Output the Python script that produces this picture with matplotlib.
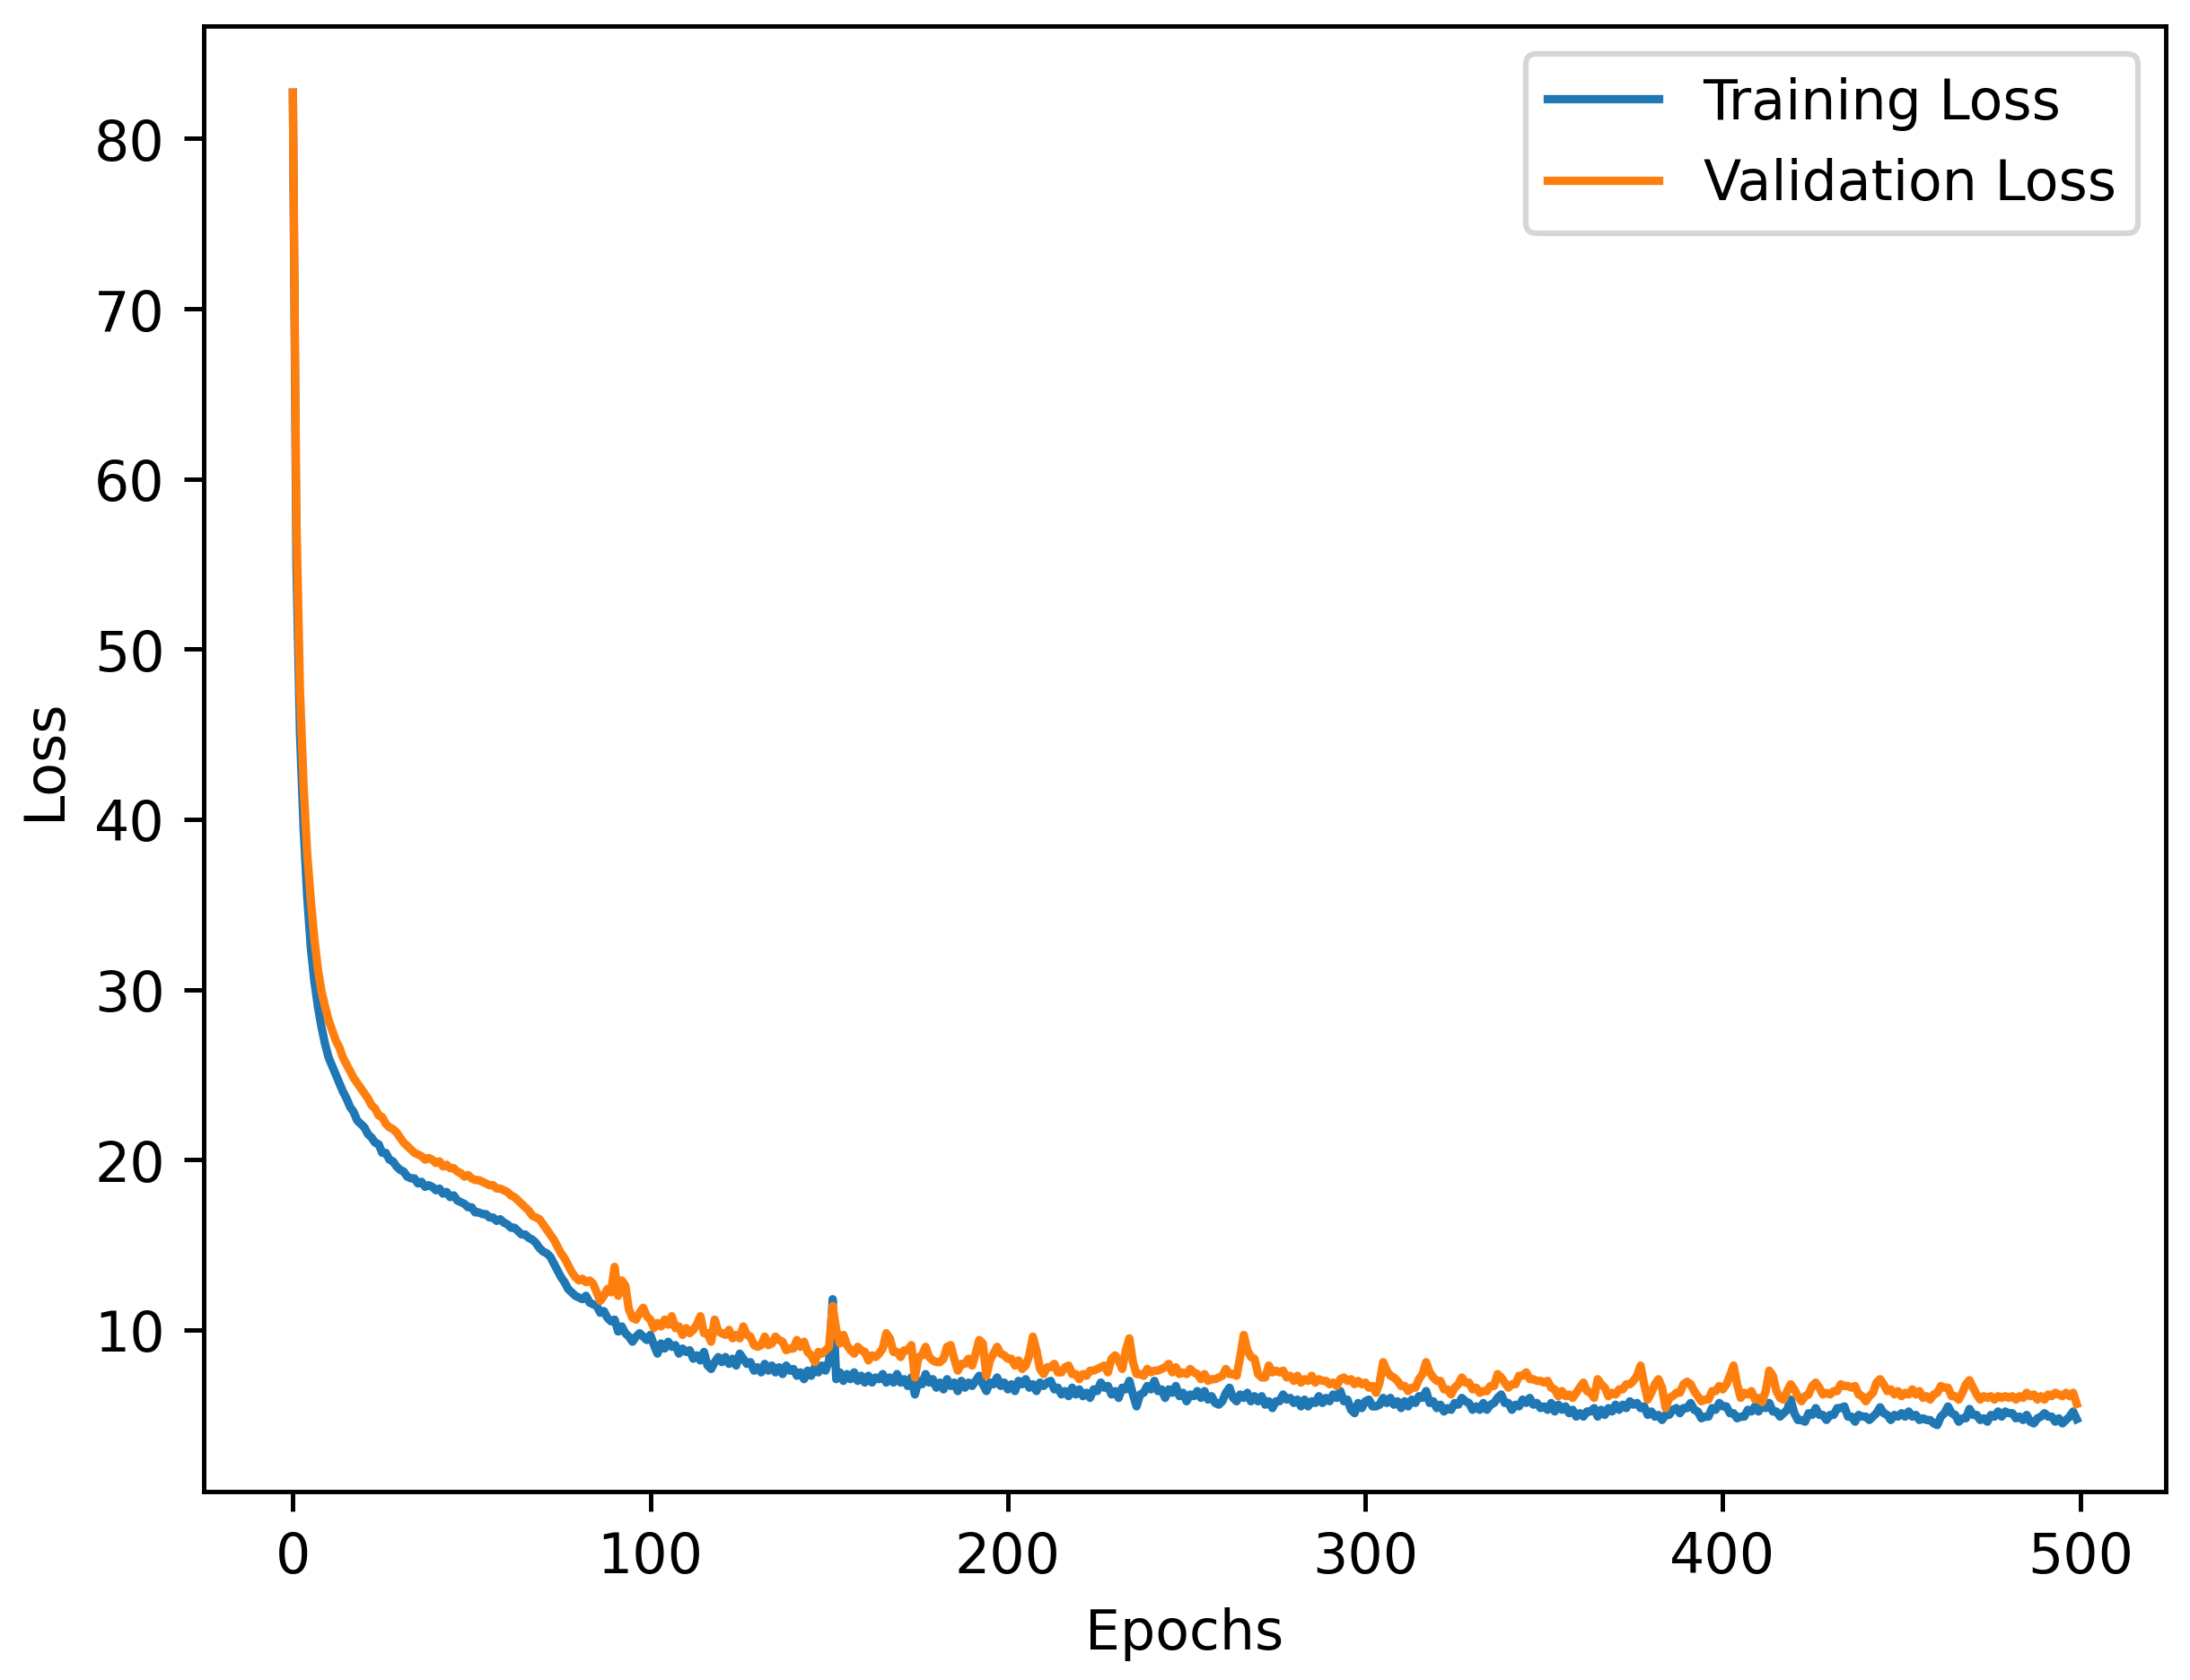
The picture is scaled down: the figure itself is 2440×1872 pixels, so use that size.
import numpy as np
import matplotlib.pyplot as plt


# loss values per epoch
train_loss = [
    82.7, 55.0, 45.0, 39.5, 35.5, 32.5, 30.5, 29.0, 27.8, 26.8,
    26.0, 25.5, 25.0, 24.5, 24.0, 23.6, 23.1, 22.8, 22.3, 22.1,
    21.9, 21.5, 21.3, 21.0, 20.9, 20.4, 20.4, 20.0, 19.9, 19.6,
    19.4, 19.3, 19.0, 18.9, 18.9, 18.6, 18.7, 18.4, 18.5, 18.4,
    18.2, 18.3, 18.0, 18.1, 17.8, 17.9, 17.6, 17.5, 17.4, 17.2,
    17.2, 16.9, 16.9, 16.8, 16.8, 16.6, 16.6, 16.4, 16.5, 16.3,
    16.2, 16.0, 16.0, 15.8, 15.6, 15.6, 15.4, 15.3, 15.1, 14.8,
    14.6, 14.5, 14.3, 13.9, 13.5, 13.1, 12.8, 12.4, 12.2, 12.0,
    11.9, 11.8, 12.0, 11.6, 11.5, 11.4, 11.0, 11.1, 10.7, 10.5,
    10.6, 9.9, 10.2, 9.8, 9.6, 9.3, 9.6, 9.8, 9.6, 9.4,
    9.7, 9.1, 8.6, 9.2, 8.9, 9.3, 9.0, 9.1, 8.6, 8.9,
    8.7, 8.8, 8.3, 8.5, 8.2, 8.7, 7.9, 7.7, 8.1, 8.4,
    8.1, 8.4, 8.0, 8.3, 7.9, 8.6, 8.3, 8.0, 8.1, 7.6,
    7.8, 7.5, 8.0, 7.6, 7.9, 7.5, 7.8, 7.4, 7.9, 7.6,
    7.7, 7.3, 7.5, 7.1, 7.6, 7.3, 7.8, 7.5, 7.9, 7.6,
    8.2, 11.8, 7.1, 7.5, 7.0, 7.4, 7.1, 7.5, 7.0, 7.3,
    6.9, 7.3, 6.9, 7.2, 7.1, 7.4, 6.9, 7.2, 6.9, 7.4,
    6.9, 7.1, 6.7, 7.2, 6.2, 7.0, 6.8, 7.4, 6.9, 7.1,
    6.6, 6.9, 6.5, 7.1, 6.7, 6.9, 6.4, 7.0, 6.6, 6.9,
    6.7, 7.0, 7.3, 6.8, 6.4, 6.9, 6.8, 7.2, 6.7, 6.9,
    6.5, 6.8, 6.4, 7.0, 6.8, 7.1, 6.6, 6.8, 6.4, 6.9,
    6.7, 6.9, 7.0, 6.5, 6.6, 6.2, 6.4, 6.1, 6.6, 6.2,
    6.5, 6.1, 6.3, 6.0, 6.5, 6.4, 6.9, 6.6, 6.7, 6.2,
    6.4, 6.0, 6.6, 6.5, 7.0, 6.2, 5.5, 6.2, 6.3, 6.7,
    6.5, 7.0, 6.4, 6.5, 6.0, 6.5, 6.3, 6.7, 6.1, 6.3,
    5.8, 6.2, 6.1, 6.4, 6.0, 6.4, 5.9, 6.1, 5.7, 5.6,
    5.8, 6.3, 6.6, 6.0, 5.8, 6.2, 6.0, 6.3, 5.8, 6.1,
    5.8, 6.1, 5.6, 5.8, 5.4, 5.8, 5.8, 6.2, 5.9, 6.0,
    5.7, 5.9, 5.5, 5.9, 5.5, 5.8, 5.7, 6.1, 5.7, 6.0,
    5.8, 6.2, 6.0, 6.4, 5.8, 5.9, 5.3, 5.1, 5.7, 5.4,
    5.8, 5.9, 5.5, 5.5, 5.6, 6.0, 5.7, 6.0, 5.6, 5.8,
    5.4, 5.8, 5.5, 5.9, 5.7, 6.1, 6.0, 6.4, 5.7, 5.8,
    5.4, 5.6, 5.2, 5.4, 5.3, 5.7, 5.6, 6.0, 5.8, 5.7,
    5.3, 5.5, 5.3, 5.7, 5.3, 5.6, 5.7, 6.0, 6.2, 5.7,
    5.7, 5.3, 5.6, 5.5, 5.9, 5.7, 6.0, 5.6, 5.7, 5.4,
    5.5, 5.3, 5.7, 5.2, 5.6, 5.3, 5.5, 5.1, 5.3, 4.9,
    5.1, 4.9, 5.2, 5.2, 5.4, 4.9, 5.3, 5.0, 5.4, 5.2,
    5.6, 5.3, 5.6, 5.4, 5.8, 5.6, 5.7, 5.4, 5.5, 5.0,
    5.2, 4.9, 5.0, 4.7, 5.0, 5.0, 5.3, 5.4, 5.1, 5.4,
    5.4, 5.7, 5.3, 5.2, 4.8, 4.9, 4.9, 5.4, 5.3, 5.7,
    5.5, 5.5, 5.1, 5.1, 4.8, 4.9, 4.9, 5.3, 5.2, 5.5,
    5.2, 5.6, 5.4, 5.7, 5.2, 5.2, 4.9, 5.1, 5.3, 5.9,
    5.1, 4.7, 4.7, 4.6, 5.1, 5.0, 5.4, 5.0, 5.0, 4.7,
    5.0, 5.0, 5.4, 5.4, 5.5, 4.9, 4.9, 4.6, 5.0, 4.9,
    4.9, 4.7, 4.9, 5.1, 5.45, 5.1, 5.0, 4.7, 5.0, 4.9,
    5.1, 4.9, 5.2, 4.9, 5.0, 4.7, 4.8, 4.7, 4.7, 4.5,
    4.4, 4.9, 5.1, 5.5, 5.1, 5.0, 4.6, 4.8, 4.8, 5.35,
    5.0, 5.0, 4.7, 4.8, 4.6, 5.0, 4.9, 5.2, 4.9, 5.2,
    5.1, 5.1, 4.8, 4.9, 4.7, 5.0, 4.6, 4.5, 4.8, 4.9,
    5.1, 4.9, 4.9, 4.6, 4.8, 4.5, 4.7, 4.9, 5.2, 4.75,
]

val_loss = [
    82.7, 57.5, 47.5, 42.0, 38.0, 35.3, 33.0, 31.2, 29.9, 29.0,
    28.2, 27.6, 27.0, 26.6, 26.0, 25.6, 25.2, 24.8, 24.5, 24.2,
    23.9, 23.6, 23.2, 23.0, 22.6, 22.5, 22.1, 21.9, 21.8, 21.6,
    21.3, 21.0, 20.8, 20.6, 20.4, 20.3, 20.2, 20.0, 20.1, 20.0,
    19.8, 19.9, 19.6, 19.7, 19.5, 19.5, 19.3, 19.2, 19.0, 19.1,
    18.9, 18.8, 18.8, 18.7, 18.6, 18.5, 18.5, 18.3, 18.3, 18.2,
    18.1, 17.9, 17.8, 17.6, 17.4, 17.2, 17.0, 16.7, 16.6, 16.5,
    16.2, 15.9, 15.6, 15.3, 14.9, 14.5, 14.2, 13.8, 13.4, 13.1,
    12.9, 13.0, 12.8, 12.9, 12.7, 12.2, 11.7, 12.0, 12.4, 12.2,
    13.7, 12.0, 12.9, 12.6, 11.2, 10.7, 10.6, 11.0, 11.3, 10.8,
    10.6, 10.1, 10.4, 10.2, 10.6, 10.3, 10.8, 10.1, 10.2, 9.7,
    10.1, 9.8, 10.0, 10.3, 10.8, 9.8, 9.8, 9.3, 10.6, 9.9,
    9.8, 9.7, 10.0, 9.5, 9.7, 9.5, 10.2, 9.7, 9.6, 9.1,
    9.0, 9.1, 9.6, 9.1, 9.2, 9.6, 9.4, 9.3, 8.8, 8.9,
    8.9, 9.4, 9.0, 9.3, 8.7, 8.5, 8.1, 8.7, 8.6, 8.8,
    9.0, 11.4, 10.0, 9.2, 9.7, 9.1, 8.8, 8.6, 9.0, 8.8,
    8.7, 8.2, 8.5, 8.4, 8.6, 8.9, 9.8, 9.5, 8.7, 8.7,
    8.4, 8.8, 8.8, 9.1, 7.2, 8.4, 8.5, 9.0, 8.4, 8.2,
    8.1, 8.1, 8.3, 9.0, 9.1, 8.3, 7.6, 8.0, 8.0, 8.3,
    7.9, 8.6, 9.4, 9.2, 7.3, 8.2, 8.6, 9.0, 8.6, 8.5,
    8.3, 8.3, 7.9, 8.2, 7.7, 7.9, 8.5, 9.6, 8.8, 7.7,
    7.4, 7.8, 7.8, 8.0, 7.5, 7.5, 7.8, 7.9, 7.4, 7.4,
    7.1, 7.4, 7.3, 7.6, 7.6, 7.7, 7.8, 7.9, 7.5, 8.3,
    8.5, 8.2, 7.7, 8.8, 9.5, 8.1, 7.4, 7.4, 7.3, 7.7,
    7.5, 7.6, 7.6, 7.7, 7.8, 8.0, 7.5, 7.8, 7.4, 7.5,
    7.4, 7.7, 7.5, 7.4, 7.1, 7.4, 7.0, 7.1, 7.1, 7.2,
    7.3, 7.7, 7.4, 7.4, 7.3, 8.4, 9.7, 8.8, 8.4, 8.3,
    7.4, 7.2, 7.2, 7.9, 7.5, 7.6, 7.5, 7.6, 7.2, 7.3,
    7.0, 7.3, 6.9, 7.1, 7.0, 7.3, 6.9, 7.1, 7.0, 7.0,
    6.8, 6.9, 6.7, 7.1, 7.2, 7.0, 7.1, 6.8, 7.0, 6.8,
    6.9, 6.6, 6.7, 6.3, 6.9, 8.1, 7.6, 7.3, 7.2, 7.0,
    6.7, 6.7, 6.4, 6.6, 6.6, 7.1, 7.4, 8.1, 7.5, 7.2,
    7.0, 7.0, 6.5, 6.5, 6.2, 6.6, 6.8, 7.2, 6.9, 6.9,
    6.5, 6.6, 6.3, 6.4, 6.4, 6.7, 6.7, 7.4, 7.2, 6.9,
    6.6, 6.8, 6.8, 7.3, 7.3, 7.5, 7.1, 7.1, 7.0, 7.0,
    6.9, 7.0, 6.6, 6.5, 6.1, 6.4, 6.1, 6.2, 6.0, 6.3,
    6.6, 6.9, 6.4, 6.3, 6.0, 7.1, 6.8, 6.6, 6.1, 6.3,
    6.2, 6.5, 6.5, 6.8, 6.8, 7.0, 7.3, 7.9, 6.8, 5.9,
    6.3, 6.8, 7.1, 6.6, 5.4, 6.0, 6.1, 6.3, 6.3, 6.8,
    6.95, 6.8, 6.4, 6.1, 5.8, 5.9, 5.9, 6.4, 6.4, 6.7,
    6.5, 6.8, 7.3, 7.9, 6.8, 6.0, 6.3, 6.2, 6.4, 5.9,
    6.0, 5.75, 6.4, 7.6, 7.3, 6.4, 6.0, 5.9, 6.4, 6.8,
    6.5, 6.1, 5.8, 6.1, 6.2, 6.7, 6.9, 6.6, 6.2, 6.3,
    6.2, 6.4, 6.4, 6.8, 6.7, 6.7, 6.6, 6.7, 6.2, 6.1,
    5.8, 6.1, 6.3, 6.9, 7.1, 6.8, 6.4, 6.5, 6.2, 6.4,
    6.1, 6.3, 6.2, 6.5, 6.2, 6.4, 6.0, 6.1, 5.9, 6.2,
    6.3, 6.7, 6.6, 6.6, 6.1, 6.1, 5.9, 6.3, 6.8, 7.04,
    6.6, 6.2, 5.9, 6.1, 6.0, 6.1, 5.9, 6.1, 6.0, 6.1,
    6.0, 6.1, 5.9, 6.1, 6.0, 6.3, 6.1, 6.2, 5.9, 6.1,
    5.9, 6.2, 6.1, 6.3, 6.2, 6.1, 6.3, 6.1, 6.3, 5.64,
]

epochs = np.arange(len(train_loss))

fig = plt.figure(figsize=(2440 / 445, 1873 / 445), dpi=445)
plt.plot(epochs, train_loss, label='Training Loss')
plt.plot(epochs, val_loss, label='Validation Loss')
plt.xlabel('Epochs')
plt.ylabel('Loss')
plt.legend()
plt.subplots_adjust(left=0.093, right=0.989, bottom=0.112, top=0.984)

plt.savefig('out.png', dpi=445)
